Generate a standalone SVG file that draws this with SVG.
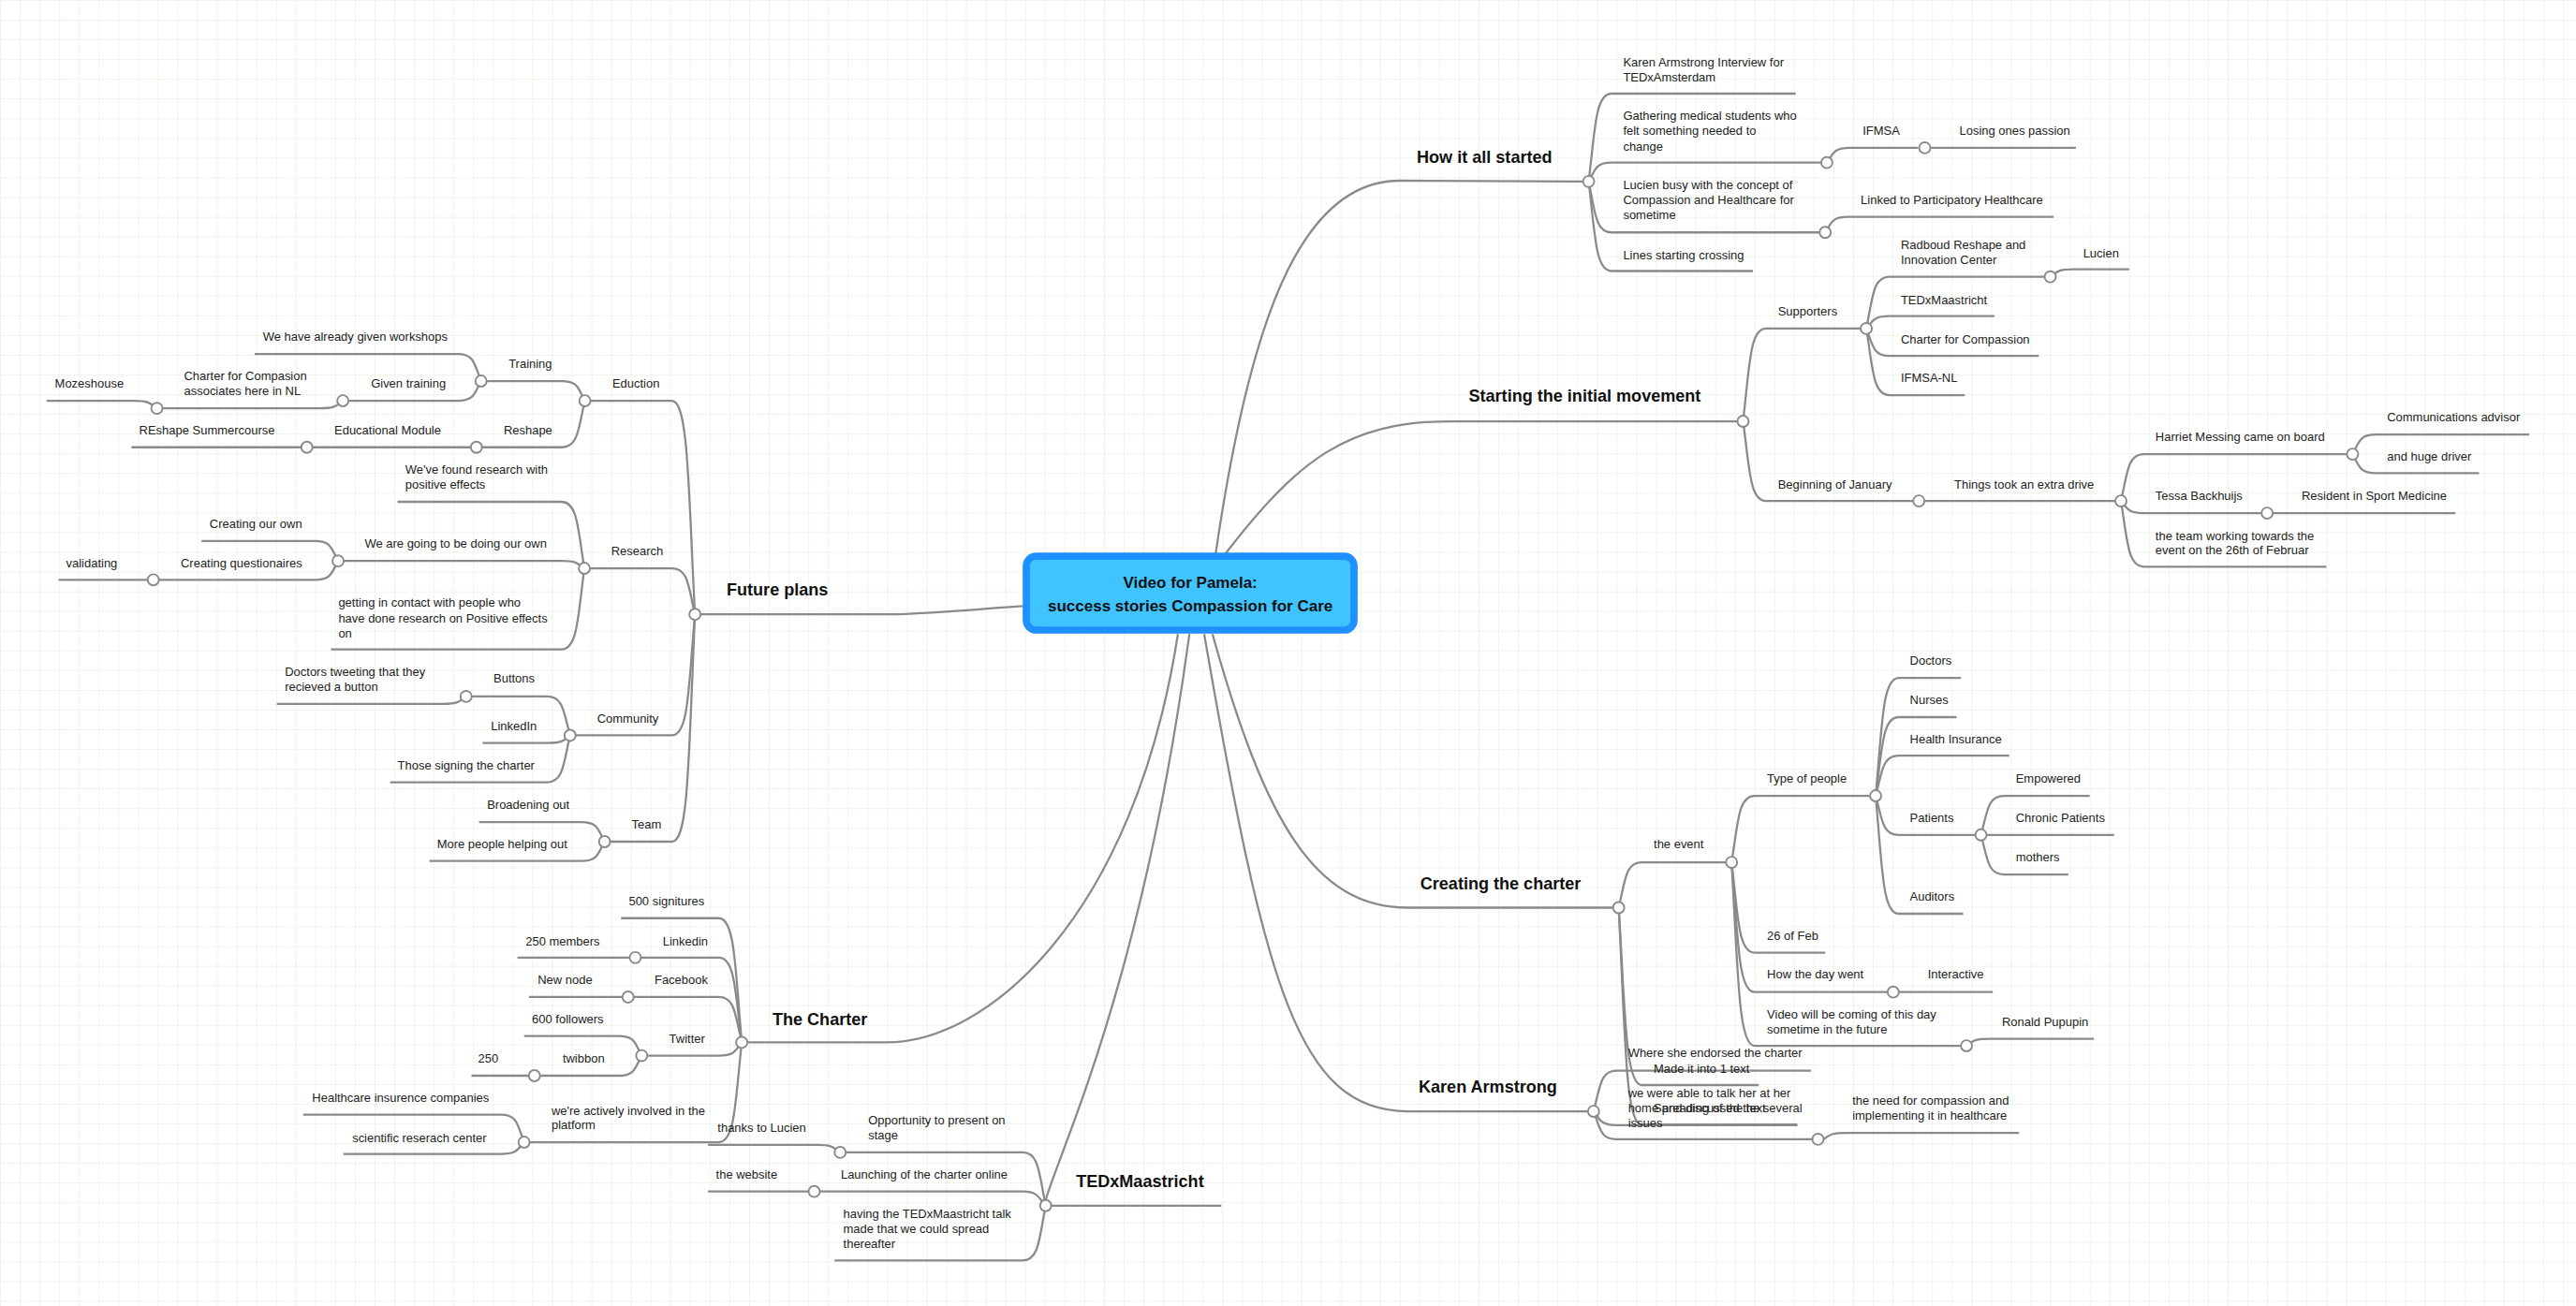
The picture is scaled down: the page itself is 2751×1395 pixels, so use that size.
<svg xmlns="http://www.w3.org/2000/svg" width="2751" height="1395" viewBox="0 0 2751 1395">
<defs>
<pattern id="grid" width="12" height="12" patternUnits="userSpaceOnUse"><path d="M12 0 L0 0 0 12" fill="none" stroke="#e0ecd4" stroke-width="0.6"/></pattern>
<style>
.c{fill:none;stroke:#8a8a8a;stroke-width:1.3}
.h{fill:#fff;stroke:#8a8a8a;stroke-width:1.1}
text{font-family:"Liberation Sans",Arial,sans-serif;font-size:7.4px;fill:#222}
.t{font-size:10.3px;font-weight:bold;fill:#111}
.r{font-size:9.7px;font-weight:bold;fill:#111;text-anchor:middle}
</style>
</defs>
<rect width="2751" height="1395" fill="#fff"/>
<g transform="scale(1.75446)">
<rect width="1568" height="796" fill="url(#grid)"/>
<g id="connectors">
<path class="c" d="M740,337 C760,200 790,110 852,110 L963.6,110.5"/>
<path class="c" d="M746,337 C790,280 820,256.5 883,256.5 L1057.6,256.5"/>
<path class="c" d="M738,386 C770,500 800,552.6 857,552.6 L981.9,552.6"/>
<path class="c" d="M733,386 C770,600 790,676.6 857,676.6 L966.6,676.6"/>
<path class="c" d="M622.4,369 C580,372 560,374 540,374 L426.4,374"/>
<path class="c" d="M717,386 C690,560 600,634.6 540,634.6 L454.9,634.6"/>
<path class="c" d="M724,386 C695,600 645,700 636.5,730.6"/>
<path class="c" d="M640,734 L743.4,734"/>
<path class="c" d="M967,110.5 C971,78.4 971,57 981,57 L1093,57"/>
<path class="c" d="M967,110.5 C971,103.6 971,99 981,99 L1108.6,99"/>
<path class="c" d="M1112,99 C1116,93.6 1116,90 1126,90 L1167.6,90"/>
<path class="c" d="M1175,90 L1263.6,90"/>
<path class="c" d="M967,110.5 C971,129 971,141.5 981,141.5 L1107.6,141.5"/>
<path class="c" d="M1111,141.5 C1115,135.5 1115,132 1125,132 L1250,132"/>
<path class="c" d="M967,110.5 C971,143 971,165 981,165 L1067,165"/>
<path class="c" d="M1061,256.5 C1065,222.6 1065,200 1075,200 L1132.6,200"/>
<path class="c" d="M1136,200 C1140,181 1140,168.5 1150,168.5 L1244.6,168.5"/>
<path class="c" d="M1248,168.5 C1252,165.8 1252,164 1262,164 L1296,164"/>
<path class="c" d="M1136,200 C1140,195.5 1140,192.5 1150,192.5 L1214,192.5"/>
<path class="c" d="M1136,200 C1140,210 1140,216.6 1150,216.6 L1241,216.6"/>
<path class="c" d="M1136,200 C1140,224.4 1140,240.6 1150,240.6 L1196,240.6"/>
<path class="c" d="M1061,256.5 C1065,285.6 1065,305 1075,305 L1164.6,305"/>
<path class="c" d="M1171.4,305 L1287.6,305"/>
<path class="c" d="M1291,305 C1295,288 1295,276.5 1305,276.5 L1428.6,276.5"/>
<path class="c" d="M1432,276.5 C1436,269.4 1436,264.6 1446,264.6 L1539.5,264.6"/>
<path class="c" d="M1432,276.5 C1436,283.4 1436,288 1446,288 L1509,288"/>
<path class="c" d="M1291,305 C1295,309.4 1295,312.4 1305,312.4 L1376.6,312.4"/>
<path class="c" d="M1383.4,312.4 L1494.6,312.4"/>
<path class="c" d="M1291,305 C1295,329 1295,345 1305,345 L1416,345"/>
<path class="c" d="M985.3,552.6 C989.3,536 989.3,525 999.3,525 L1050.6,525"/>
<path class="c" d="M1054,525 C1058,500.7 1058,484.5 1068,484.5 L1138.3,484.5"/>
<path class="c" d="M1141.7,484.5 C1145.7,441.4 1145.7,412.7 1155.7,412.7 L1193.6,412.7"/>
<path class="c" d="M1141.7,484.5 C1145.7,455.8 1145.7,436.6 1155.7,436.6 L1191,436.6"/>
<path class="c" d="M1141.7,484.5 C1145.7,469.8 1145.7,460 1155.7,460 L1223,460"/>
<path class="c" d="M1141.7,484.5 C1145.7,498.8 1145.7,508.3 1155.7,508.3 L1202.4,508.3"/>
<path class="c" d="M1205.8,508.3 C1209.8,494 1209.8,484.5 1219.8,484.5 L1272,484.5"/>
<path class="c" d="M1209.2,508.3 L1286.8,508.3"/>
<path class="c" d="M1205.8,508.3 C1209.8,522.8 1209.8,532.4 1219.8,532.4 L1259,532.4"/>
<path class="c" d="M1141.7,484.5 C1145.7,527.6 1145.7,556.3 1155.7,556.3 L1195,556.3"/>
<path class="c" d="M1054,525 C1058,558 1058,580 1068,580 L1111,580"/>
<path class="c" d="M1054,525 C1058,572 1058,604 1068,604 L1149,604"/>
<path class="c" d="M1155.8,604 L1213,604"/>
<path class="c" d="M1054,525 C1058,592 1058,636.7 1068,636.7 L1193.6,636.7"/>
<path class="c" d="M1197,636.7 C1201,634 1201,632.4 1211,632.4 L1274.6,632.4"/>
<path class="c" d="M985.3,552.6 C989.3,617 989.3,660.6 999.3,660.6 L1070.5,660.6"/>
<path class="c" d="M985.3,552.6 C989.3,631 989.3,684.6 999.3,684.6 L1094,684.6"/>
<path class="c" d="M970,676.6 C974,661.7 974,651.8 984,651.8 L1102.4,651.8"/>
<path class="c" d="M970,676.6 C974,681.6 974,685 984,685 L1094,685"/>
<path class="c" d="M970,676.6 C974,686.8 974,693.6 984,693.6 L1103.2,693.6"/>
<path class="c" d="M1110,693.6 C1114,691 1114,689.7 1124,689.7 L1229,689.7"/>
<path class="c" d="M423,374 C419,296 419,244 409,244 L359.4,244"/>
<path class="c" d="M356,244 C352,236.8 352,232 342,232 L296.2,232"/>
<path class="c" d="M292.8,232 C288.8,222 288.8,215.5 278.8,215.5 L155,215.5"/>
<path class="c" d="M292.8,232 C288.8,239.2 288.8,244 278.8,244 L212.1,244"/>
<path class="c" d="M208.7,244 C204.7,246.8 204.7,248.6 194.7,248.6 L98.9,248.6"/>
<path class="c" d="M95.5,248.6 C91.5,245.8 91.5,244 81.5,244 L28.4,244"/>
<path class="c" d="M356,244 C352,261 352,272.3 342,272.3 L293.4,272.3"/>
<path class="c" d="M286.6,272.3 L190.2,272.3"/>
<path class="c" d="M183.4,272.3 L80,272.3"/>
<path class="c" d="M423,374 C419,357 419,346 409,346 L359.1,346"/>
<path class="c" d="M355.7,346 C351.7,321.8 351.7,305.5 341.7,305.5 L242,305.5"/>
<path class="c" d="M355.7,346 C351.7,343.3 351.7,341.5 341.7,341.5 L209.2,341.5"/>
<path class="c" d="M205.8,341.5 C201.8,334.3 201.8,329.4 191.8,329.4 L122.7,329.4"/>
<path class="c" d="M205.8,341.5 C201.8,348.6 201.8,353 191.8,353 L96.7,353"/>
<path class="c" d="M89.9,353 L35.7,353"/>
<path class="c" d="M355.7,346 C351.7,375.6 351.7,395.3 341.7,395.3 L201.5,395.3"/>
<path class="c" d="M423,374 C419,421 419,447.7 409,447.7 L350.4,447.7"/>
<path class="c" d="M347,447.7 C343,433.5 343,424 333,424 L287.1,424"/>
<path class="c" d="M283.7,424 C279.7,426.8 279.7,428.5 269.7,428.5 L168.5,428.5"/>
<path class="c" d="M347,447.7 C343,450.6 343,452.4 333,452.4 L293.8,452.4"/>
<path class="c" d="M347,447.7 C343,464.6 343,476.3 333,476.3 L237.5,476.3"/>
<path class="c" d="M423,374 C419,466 419,512.4 409,512.4 L371.4,512.4"/>
<path class="c" d="M368,512.4 C364,505.3 364,500.5 354,500.5 L291.6,500.5"/>
<path class="c" d="M368,512.4 C364,519.5 364,524.2 354,524.2 L261.4,524.2"/>
<path class="c" d="M451.5,634.6 C447.5,589.6 447.5,559 437.5,559 L378,559"/>
<path class="c" d="M451.5,634.6 C447.5,604 447.5,583 437.5,583 L390.1,583"/>
<path class="c" d="M383.3,583 L315,583"/>
<path class="c" d="M451.5,634.6 C447.5,618 447.5,607 437.5,607 L385.7,607"/>
<path class="c" d="M378.9,607 L322,607"/>
<path class="c" d="M451.5,634.6 C447.5,639.5 447.5,642.7 437.5,642.7 L394,642.7"/>
<path class="c" d="M390.6,642.7 C386.6,635.5 386.6,630.7 376.6,630.7 L319,630.7"/>
<path class="c" d="M390.6,642.7 C386.6,650 386.6,654.9 376.6,654.9 L328.7,654.9"/>
<path class="c" d="M321.9,654.9 L287,654.9"/>
<path class="c" d="M451.5,634.6 C447.5,671 447.5,695.4 437.5,695.4 L322.4,695.4"/>
<path class="c" d="M319,695.4 C315,685 315,678.6 305,678.6 L184.5,678.6"/>
<path class="c" d="M319,695.4 C315,699.7 315,702.6 305,702.6 L209,702.6"/>
<path class="c" d="M636.5,734 C632.5,714.6 632.5,701.6 622.5,701.6 L514.8,701.6"/>
<path class="c" d="M511.4,701.6 C507.4,698.9 507.4,697 497.4,697 L431,697"/>
<path class="c" d="M636.5,734 C632.5,730 632.5,725.4 622.5,725.4 L499,725.4"/>
<path class="c" d="M492.2,725.4 L431,725.4"/>
<path class="c" d="M636.5,734 C632.5,754 632.5,767.4 622.5,767.4 L508,767.4"/>
</g>
<g id="center">
<rect x="624.7" y="338.6" width="199.5" height="45" rx="6" fill="#40c4ff" stroke="#1e90ff" stroke-width="4.4"/>
<text class="r" x="724.5" y="357.7">Video for Pamela:</text>
<text class="r" x="724.5" y="372">success stories Compassion for Care</text>
</g>
<g id="how-it-all-started">
<text class="t" x="862.4" y="99.2">How it all started</text>
<circle class="h" cx="967" cy="110.5" r="3.4"/>
<text x="988" y="40.2">Karen Armstrong Interview for</text><text x="988" y="49.4">TEDxAmsterdam</text>
<text x="988" y="72.9">Gathering medical students who</text><text x="988" y="82.3">felt something needed to</text><text x="988" y="91.5">change</text>
<circle class="h" cx="1112" cy="99" r="3.4"/>
<text x="1133.8" y="82.3">IFMSA</text>
<circle class="h" cx="1171.6" cy="90" r="3.4"/>
<text x="1192.7" y="82.3">Losing ones passion</text>
<text x="988" y="115.2">Lucien busy with the concept of</text><text x="988" y="124.4">Compassion and Healthcare for</text><text x="988" y="133.6">sometime</text>
<circle class="h" cx="1111" cy="141.5" r="3.4"/>
<text x="1132.6" y="124.4">Linked to Participatory Healthcare</text>
<text x="988" y="157.6">Lines starting crossing</text>
</g>
<g id="starting-the-initial-movement">
<text class="t" x="894" y="244.7">Starting the initial movement</text>
<circle class="h" cx="1061" cy="256.5" r="3.4"/>
<text x="1082.2" y="192.2">Supporters</text>
<circle class="h" cx="1136" cy="200" r="3.4"/>
<text x="1157" y="151.6">Radboud Reshape and</text><text x="1157" y="160.8">Innovation Center</text>
<circle class="h" cx="1248" cy="168.5" r="3.4"/>
<text x="1268" y="156.6">Lucien</text>
<text x="1157" y="185.2">TEDxMaastricht</text>
<text x="1157" y="209.1">Charter for Compassion</text>
<text x="1157" y="232.6">IFMSA-NL</text>
<text x="1082.2" y="297.3">Beginning of January</text>
<circle class="h" cx="1168" cy="305" r="3.4"/>
<text x="1189.6" y="297.3">Things took an extra drive</text>
<circle class="h" cx="1291" cy="305" r="3.4"/>
<text x="1312" y="268.6">Harriet Messing came on board</text>
<circle class="h" cx="1432" cy="276.5" r="3.4"/>
<text x="1453" y="256.6">Communications advisor</text>
<text x="1453" y="280.6">and huge driver</text>
<text x="1312" y="304.2">Tessa Backhuijs</text>
<circle class="h" cx="1380" cy="312.4" r="3.4"/>
<text x="1401" y="304.2">Resident in Sport Medicine</text>
<text x="1312" y="328.6">the team working towards the</text><text x="1312" y="337.6">event on the 26th of Februar</text>
</g>
<g id="creating-the-charter">
<text class="t" x="864.5" y="541.5">Creating the charter</text>
<circle class="h" cx="985.3" cy="552.6" r="3.4"/>
<text x="1006.6" y="516.6">the event</text>
<circle class="h" cx="1054" cy="525" r="3.4"/>
<text x="1075.6" y="476.6">Type of people</text>
<circle class="h" cx="1141.7" cy="484.5" r="3.4"/>
<text x="1162.5" y="404.6">Doctors</text>
<text x="1162.5" y="428.6">Nurses</text>
<text x="1162.5" y="452.6">Health Insurance</text>
<text x="1162.5" y="500.2">Patients</text>
<circle class="h" cx="1205.8" cy="508.3" r="3.4"/>
<text x="1227" y="476.4">Empowered</text>
<text x="1227" y="500.2">Chronic Patients</text>
<text x="1227" y="524.2">mothers</text>
<text x="1162.5" y="548.3">Auditors</text>
<text x="1075.6" y="572.1">26 of Feb</text>
<text x="1075.6" y="595.9">How the day went</text>
<circle class="h" cx="1152.4" cy="604" r="3.4"/>
<text x="1173.4" y="595.9">Interactive</text>
<text x="1075.6" y="620.2">Video will be coming of this day</text><text x="1075.6" y="629.1">sometime in the future</text>
<circle class="h" cx="1197" cy="636.7" r="3.4"/>
<text x="1218.6" y="624.6">Ronald Pupupin</text>
<text x="1006.6" y="653">Made it into 1 text</text>
<text x="1006.6" y="677.2">Spreading of the text</text>
</g>
<g id="karen-armstrong">
<text class="t" x="863.5" y="665.4">Karen Armstrong</text>
<circle class="h" cx="970" cy="676.6" r="3.4"/>
<text x="991" y="643.6">Where she endorsed the charter</text>
<text x="991" y="668">we were able to talk her at her</text><text x="991" y="677.2">home and discussed the several</text><text x="991" y="686.3">issues</text>
<circle class="h" cx="1106.6" cy="693.6" r="3.4"/>
<text x="1127.5" y="672.6">the need for compassion and</text><text x="1127.5" y="681.6">implementing it in healthcare</text>
</g>
<g id="future-plans">
<text class="t" x="442.3" y="362.7">Future plans</text>
<circle class="h" cx="423" cy="374" r="3.4"/>
<text x="372.7" y="236.1">Eduction</text>
<circle class="h" cx="356" cy="244" r="3.4"/>
<text x="309.6" y="224.1">Training</text>
<circle class="h" cx="292.8" cy="232" r="3.4"/>
<text x="160" y="207.6">We have already given workshops</text>
<text x="225.8" y="236.1">Given training</text>
<circle class="h" cx="208.7" cy="244" r="3.4"/>
<text x="112" y="231.6">Charter for Compasion</text><text x="112" y="240.6">associates here in NL</text>
<circle class="h" cx="95.5" cy="248.6" r="3.4"/>
<text x="33.4" y="236.1">Mozeshouse</text>
<text x="306.6" y="264.2">Reshape</text>
<circle class="h" cx="290" cy="272.3" r="3.4"/>
<text x="203.5" y="264.2">Educational Module</text>
<circle class="h" cx="186.8" cy="272.3" r="3.4"/>
<text x="84.7" y="264.2">REshape Summercourse</text>
<text x="372" y="338.1">Research</text>
<circle class="h" cx="355.7" cy="346" r="3.4"/>
<text x="246.7" y="288.4">We've found research with</text><text x="246.7" y="297.6">positive effects</text>
<text x="222" y="333.6">We are going to be doing our own</text>
<circle class="h" cx="205.8" cy="341.5" r="3.4"/>
<text x="127.6" y="321.6">Creating our own</text>
<text x="110" y="345.6">Creating questionaires</text>
<circle class="h" cx="93.3" cy="353" r="3.4"/>
<text x="40.2" y="345.6">validating</text>
<text x="206" y="369.6">getting in contact with people who</text><text x="206" y="378.8">have done research on Positive effects</text><text x="206" y="388">on</text>
<text x="363.5" y="440">Community</text>
<circle class="h" cx="347" cy="447.7" r="3.4"/>
<text x="300.4" y="415.6">Buttons</text>
<circle class="h" cx="283.7" cy="424" r="3.4"/>
<text x="173.4" y="411.3">Doctors tweeting that they</text><text x="173.4" y="420.8">recieved a button</text>
<text x="298.8" y="444.6">LinkedIn</text>
<text x="242" y="468.6">Those signing the charter</text>
<text x="384.5" y="504.2">Team</text>
<circle class="h" cx="368" cy="512.4" r="3.4"/>
<text x="296.5" y="492.6">Broadening out</text>
<text x="266" y="516.6">More people helping out</text>
</g>
<g id="the-charter">
<text class="t" x="470.2" y="624">The Charter</text>
<circle class="h" cx="451.5" cy="634.6" r="3.4"/>
<text x="382.7" y="551.4">500 signitures</text>
<text x="403.4" y="575.4">Linkedin</text>
<circle class="h" cx="386.7" cy="583" r="3.4"/>
<text x="319.9" y="575.4">250 members</text>
<text x="398.4" y="599.2">Facebook</text>
<circle class="h" cx="382.3" cy="607" r="3.4"/>
<text x="327.3" y="599.2">New node</text>
<text x="407.3" y="634.9">Twitter</text>
<circle class="h" cx="390.6" cy="642.7" r="3.4"/>
<text x="323.8" y="623.1">600 followers</text>
<text x="342.5" y="647.2">twibbon</text>
<circle class="h" cx="325.3" cy="654.9" r="3.4"/>
<text x="291" y="647.2">250</text>
<text x="335.7" y="678.6">we're actively involved in the</text><text x="335.7" y="687.6">platform</text>
<circle class="h" cx="319" cy="695.4" r="3.4"/>
<text x="190" y="671">Healthcare insurence companies</text>
<text x="214.4" y="695.1">scientific reserach center</text>
</g>
<g id="tedxmaastricht">
<text class="t" x="655" y="722.7">TEDxMaastricht</text>
<circle class="h" cx="636.5" cy="734" r="3.4"/>
<text x="528.5" y="684.6">Opportunity to present on</text><text x="528.5" y="693.6">stage</text>
<circle class="h" cx="511.4" cy="701.6" r="3.4"/>
<text x="436.8" y="689">thanks to Lucien</text>
<text x="511.8" y="717.4">Launching of the charter online</text>
<circle class="h" cx="495.6" cy="725.4" r="3.4"/>
<text x="435.8" y="717.4">the website</text>
<text x="513.3" y="741.6">having the TEDxMaastricht talk</text><text x="513.3" y="750.8">made that we could spread</text><text x="513.3" y="759.6">thereafter</text>
</g>
</g>
</svg>
